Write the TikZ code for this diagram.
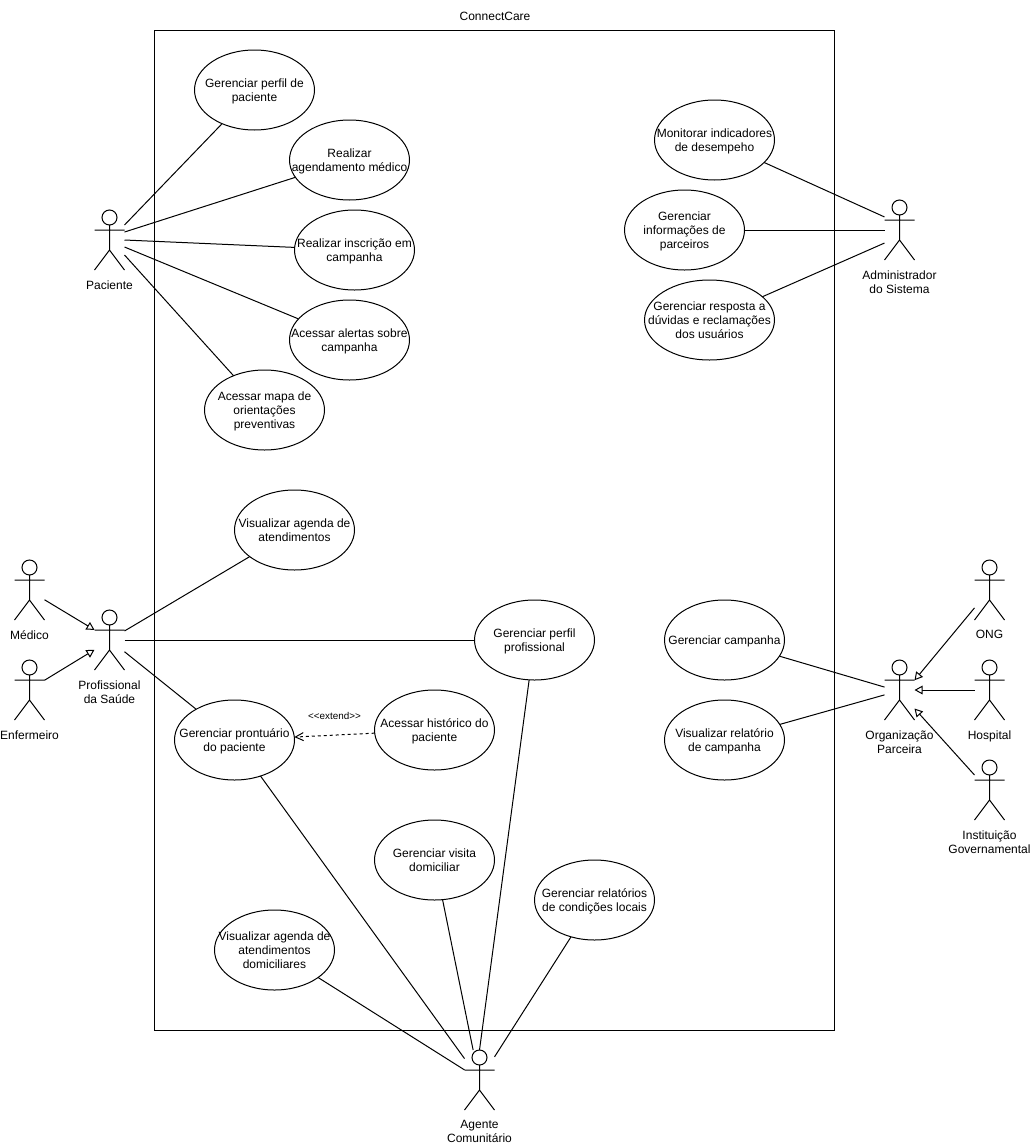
\documentclass[tikz,border=0pt]{standalone}
\usepackage{fontspec}
\setmainfont{Liberation Sans}
\usetikzlibrary{positioning, shapes.geometric, arrows.meta}

\begin{document}
\begin{tikzpicture}[x=0.75pt, y=-0.75pt, line width=0.75pt,
  every node/.style={font=\fontsize{9}{10.5}\selectfont, align=center},
  usecase/.style={ellipse, draw, minimum width=90pt, minimum height=60pt, inner xsep=-25pt, inner ysep=-10pt, outer sep=0pt, text depth=-0.3pt},
  actorbox/.style={rectangle, minimum width=22.5pt, minimum height=45pt, inner sep=0pt, outer sep=0pt},
  actorlabel/.style={inner sep=0pt, outer sep=0pt},
  isa/.style={-{Triangle[open, fill=white, length=6pt, width=6.5pt]}},
  extendarrow/.style={dashed, dash pattern=on 2.25pt off 2.25pt, -{Straight Barb[length=6pt, width=6pt]}}]

\useasboundingbox (0,0) rectangle (1031,1146);

% System boundary
\node[rectangle, draw, minimum width=510pt, minimum height=750pt, inner sep=0pt, outer sep=0pt] (system) at (494.5,530.5) {};
\node[inner sep=0pt] (title) at (495,16) {ConnectCare};

% Use cases
\node[usecase] (perfilpac) at (254.5,90) {Gerenciar perfil de\\paciente};
\node[usecase] (agendamento) at (349.5,160) {Realizar\\agendamento médico};
\node[usecase] (inscricao) at (354.5,250) {Realizar inscrição em\\campanha};
\node[usecase] (alertas) at (349.5,340) {Acessar alertas sobre\\campanha};
\node[usecase] (mapa) at (264.5,410) {Acessar mapa de\\orientações\\preventivas};

\node[usecase] (monitorar) at (714.5,140) {Monitorar indicadores\\de desempeho};
\node[usecase] (parceiros) at (684.5,230) {Gerenciar\\informações de\\parceiros};
\node[usecase, minimum width=97.5pt] (resposta) at (709.5,320) {Gerenciar resposta a\\dúvidas e reclamações\\dos usuários};

\node[usecase] (agendaprof) at (294.5,530) {Visualizar agenda de\\atendimentos};
\node[usecase] (perfilprof) at (534.5,640) {Gerenciar perfil\\profissional};
\node[usecase] (prontuario) at (234.5,740) {Gerenciar prontuário\\do paciente};
\node[usecase] (historico) at (434.5,730) {Acessar histórico do\\paciente};

\node[usecase] (campanha) at (724.5,640) {Gerenciar campanha};
\node[usecase] (relcampanha) at (724.5,740) {Visualizar relatório\\de campanha};

\node[usecase] (visita) at (434.5,860) {Gerenciar visita\\domiciliar};
\node[usecase] (condicoes) at (594.5,900) {Gerenciar relatórios\\de condições locais};
\node[usecase] (agendadom) at (274.5,950) {Visualizar agenda de\\atendimentos\\domiciliares};

% Actors
\foreach \name/\x/\y/\txt in {
  paciente/109.5/240/Paciente,
  profissional/109.5/640/{Profissional\\da Saúde},
  medico/29.5/590/Médico,
  enfermeiro/29.5/690/Enfermeiro,
  admin/899.5/230/{Administrador\\do Sistema},
  organizacao/899.5/690/{Organização\\Parceira},
  ong/989.5/590/ONG,
  hospital/989.5/690/Hospital,
  instituicao/989.5/790/{Instituição\\Governamental},
  agente/479.5/1080/{Agente\\Comunitário}} {
  \node[actorbox] (\name) at (\x,\y) {};
  \draw[shift={(\x,\y)}] (0,-22.5) circle[radius=7.5pt*0.75] (0,-15) -- (0,10) -- (-15,30) (0,10) -- (15,30) (-15,-10) -- (15,-10);
  \node[actorlabel, below=7.75pt of \name] (\name text) {\txt};
}

% Paciente
\draw (paciente.45) -- (perfilpac);
\draw (paciente.28) -- (agendamento);
\draw (paciente.east) -- (inscricao);
\draw (paciente.-25) -- (alertas);
\draw (paciente.-45) -- (mapa);

% Administrador
\draw (admin.139) -- (monitorar);
\draw (admin.west) -- (parceiros);
\draw (admin.221) -- (resposta);

% Profissional
\draw[isa] (medico.-33.7) -- (profissional.146.3);
\draw[isa] (enfermeiro.33.7) -- (profissional.213.7);
\draw (profissional.31) -- (agendaprof);
\draw (profissional.east) -- (perfilprof);
\draw (profissional.-38.7) -- (prontuario);
\draw[extendarrow] (historico.183) -- node[above=11.5pt, pos=0.5, font=\fontsize{7.4}{8}\selectfont, inner sep=0pt] (extendtext) {<{}<extend>{}>} (prontuario);

% Organizacao
\draw[isa] (ong.230) -- (organizacao.33.7);
\draw[isa] (hospital.west) -- (organizacao.east);
\draw[isa] (instituicao.135) -- (organizacao.-51.7);
\draw (organizacao.169) -- (campanha);
\draw (organizacao.198) -- (relcampanha);

% Agente
\draw (agente.125.5) -- (prontuario);
\draw (agente.102) -- (visita);
\draw (agente.north) -- (perfilprof);
\draw (agente.57) -- (condicoes);
\draw (agente.146.3) -- (agendadom);

\end{tikzpicture}
\end{document}
